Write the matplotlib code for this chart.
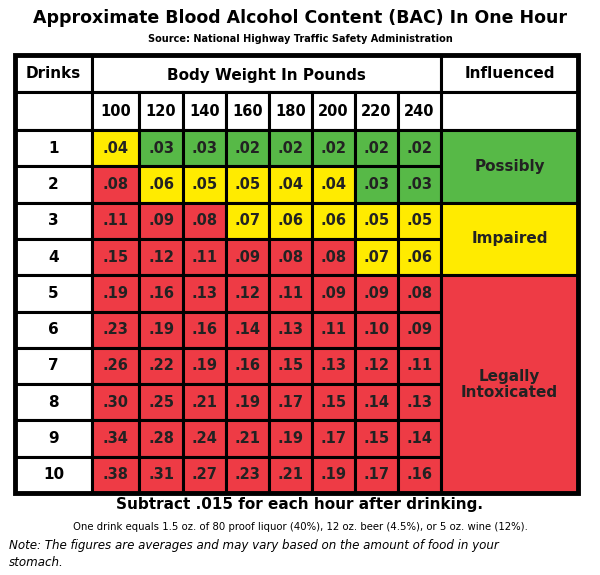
import matplotlib
matplotlib.use("Agg")
import matplotlib.pyplot as plt
from matplotlib.patches import Rectangle

weights = [100, 120, 140, 160, 180, 200, 220, 240]
drinks = list(range(1, 11))
bac = [
    [.04, .03, .03, .02, .02, .02, .02, .02],
    [.08, .06, .05, .05, .04, .04, .03, .03],
    [.11, .09, .08, .07, .06, .06, .05, .05],
    [.15, .12, .11, .09, .08, .08, .07, .06],
    [.19, .16, .13, .12, .11, .09, .09, .08],
    [.23, .19, .16, .14, .13, .11, .10, .09],
    [.26, .22, .19, .16, .15, .13, .12, .11],
    [.30, .25, .21, .19, .17, .15, .14, .13],
    [.34, .28, .24, .21, .19, .17, .15, .14],
    [.38, .31, .27, .23, .21, .19, .17, .16],
]
influence = [("Possibly", 0, 2), ("Impaired", 2, 4), ("Legally\nIntoxicated", 4, 10)]

RED, YEL, GRN = "#EE3B45", "#FFEB00", "#57B947"
def col(v):
    if v >= 0.08: return RED
    if v >= 0.04: return YEL
    return GRN
infl_col = [GRN, YEL, RED]

fig = plt.figure(figsize=(6, 5.75), dpi=100)
ax = fig.add_axes([0, 0, 1, 1])
ax.set_xlim(0, 600); ax.set_ylim(575, 0); ax.axis("off")

xs = [15, 92, 139, 183, 226, 269, 312, 355, 398, 441, 578]
ys = [55, 92, 130] + [130 + 36.3 * (i + 1) for i in range(10)]
lw = 2.2

def rect(x0, y0, x1, y1, fc):
    ax.add_patch(Rectangle((x0, y0), x1 - x0, y1 - y0, fc=fc, ec="black", lw=lw))

# header
rect(xs[0], ys[0], xs[1], ys[1], "white")
rect(xs[1], ys[0], xs[9], ys[1], "white")
rect(xs[9], ys[0], xs[10], ys[1], "white")
ax.text((xs[0]+xs[1])/2, (ys[0]+ys[1])/2, "Drinks", ha="center", va="center", fontsize=11, fontweight="bold")
ax.text((xs[1]+xs[9])/2, (ys[0]+ys[1])/2+2, "Body Weight In Pounds", ha="center", va="center", fontsize=11, fontweight="bold")
ax.text((xs[9]+xs[10])/2, (ys[0]+ys[1])/2, "Influenced", ha="center", va="center", fontsize=11, fontweight="bold")
rect(xs[0], ys[1], xs[1], ys[2], "white")
rect(xs[9], ys[1], xs[10], ys[2], "white")
for j, w in enumerate(weights):
    rect(xs[j+1], ys[1], xs[j+2], ys[2], "white")
    ax.text((xs[j+1]+xs[j+2])/2, (ys[1]+ys[2])/2, str(w), ha="center", va="center", fontsize=10.5, fontweight="bold")

for i, d in enumerate(drinks):
    y0, y1 = ys[i+2], ys[i+3]
    rect(xs[0], y0, xs[1], y1, "white")
    ax.text((xs[0]+xs[1])/2, (y0+y1)/2, str(d), ha="center", va="center", fontsize=11, fontweight="bold")
    for j, v in enumerate(bac[i]):
        rect(xs[j+1], y0, xs[j+2], y1, col(v))
        ax.text((xs[j+1]+xs[j+2])/2, (y0+y1)/2, f"{v:.2f}"[1:], ha="center", va="center", fontsize=10.5, fontweight="bold", color="#222222")

for k, (lab, a, b) in enumerate(influence):
    y0, y1 = ys[a+2], ys[b+2]
    rect(xs[9], y0, xs[10], y1, infl_col[k])
    ax.text((xs[9]+xs[10])/2, (y0+y1)/2, lab, ha="center", va="center", fontsize=11, fontweight="bold", color="#222222", linespacing=1.1)

ax.add_patch(Rectangle((xs[0], ys[0]), xs[10]-xs[0], ys[-1]-ys[0], fc="none", ec="black", lw=3.5))

ax.text(300, 18, "Approximate Blood Alcohol Content (BAC) In One Hour", ha="center", va="center", fontsize=12.5, fontweight="bold")
ax.text(300, 39, "Source: National Highway Traffic Safety Administration", ha="center", va="center", fontsize=7, fontweight="bold")
ax.text(300, 505, "Subtract .015 for each hour after drinking.", ha="center", va="center", fontsize=11, fontweight="bold")
ax.text(300, 527, "One drink equals 1.5 oz. of 80 proof liquor (40%), 12 oz. beer (4.5%), or 5 oz. wine (12%).", ha="center", va="center", fontsize=7.3)
ax.text(9, 546, "Note: The figures are averages and may vary based on the amount of food in your", ha="left", va="center", fontsize=8.6, style="italic")
ax.text(9, 562, "stomach.", ha="left", va="center", fontsize=8.6, style="italic")

fig.savefig("out.png", dpi=100)
